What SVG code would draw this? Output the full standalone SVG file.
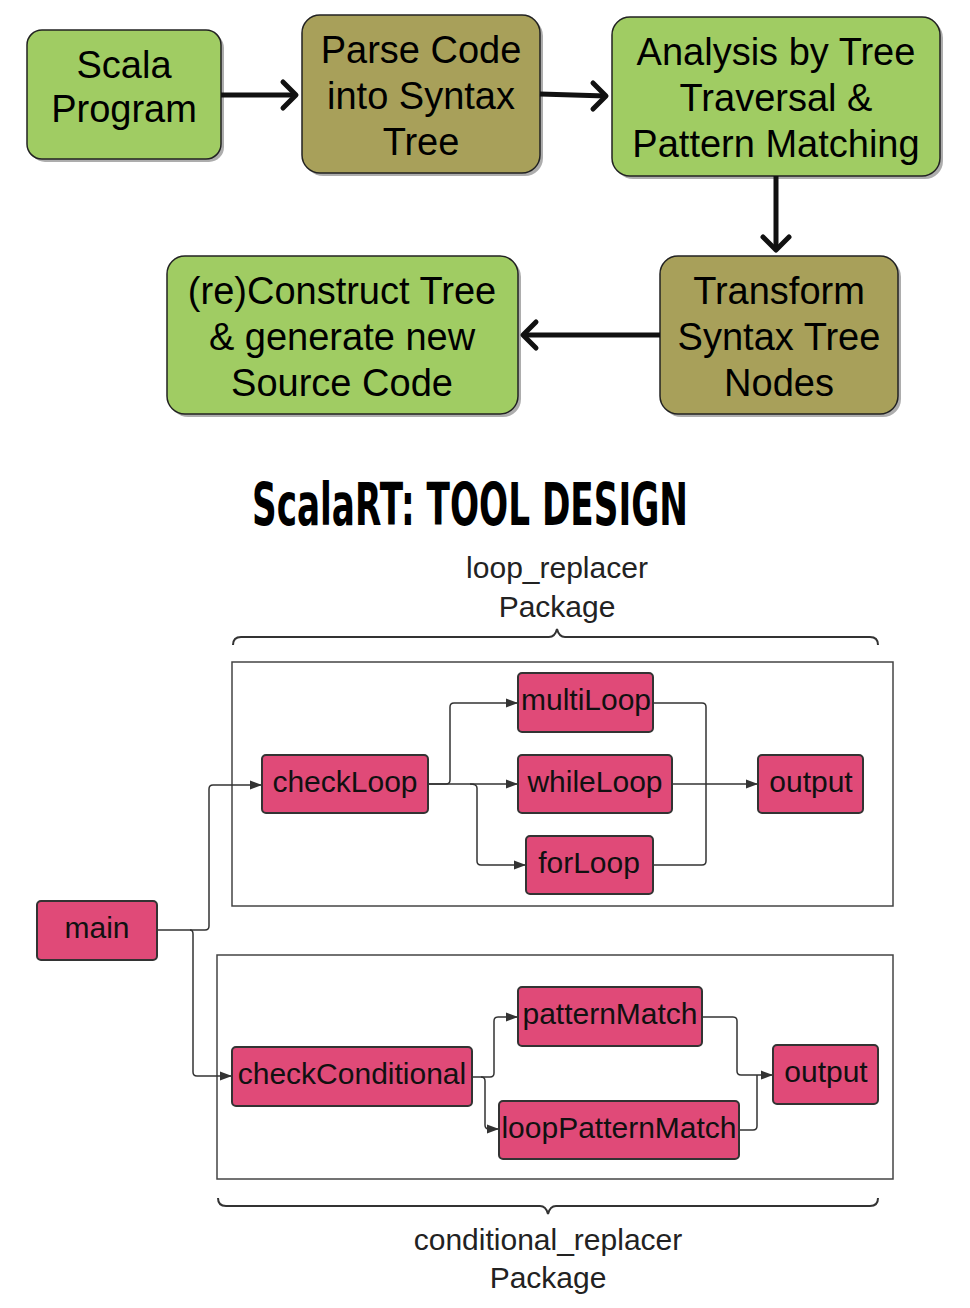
<svg xmlns="http://www.w3.org/2000/svg" width="970" height="1308" viewBox="0 0 970 1308">
<style>
.g{fill:#a0cc63;stroke:#222;stroke-width:1.5}
.o{fill:#a8a05a;stroke:#222;stroke-width:1.5}
.sh{fill:#777;opacity:0.6}
.t1{font-family:"Liberation Sans",Arial,sans-serif;font-size:38px;fill:#000;text-anchor:middle}
.p{fill:#e04a78;stroke:#333;stroke-width:2}
.t2{font-family:"Liberation Sans",Arial,sans-serif;font-size:30px;fill:#111;text-anchor:middle}
.t3{font-family:"Liberation Sans",Arial,sans-serif;font-size:30px;fill:#222;text-anchor:middle}
.big{stroke:#111;stroke-width:5;fill:none}
.thin{stroke:#333;stroke-width:1.5;fill:none}
.box{fill:none;stroke:#444;stroke-width:1.5}
.brace{fill:none;stroke:#333;stroke-width:2}
</style>
<defs>
<marker id="tri" markerWidth="12" markerHeight="10" refX="11" refY="5" orient="auto" markerUnits="userSpaceOnUse">
<path d="M0,0.5 L12,5 L0,9.5 z" fill="#333"/>
</marker>
</defs>

<g id="node-scala">
<rect class="sh" x="30" y="33" width="194" height="129" rx="15"/>
<rect class="g" x="27" y="30" width="194" height="129" rx="15"/>
<text class="t1" x="124" y="78">Scala</text>
<text class="t1" x="124" y="122">Program</text>
</g>
<g id="node-parse">
<rect class="sh" x="305" y="18" width="238" height="158" rx="18"/>
<rect class="o" x="302" y="15" width="238" height="158" rx="18"/>
<text class="t1" x="421" y="63">Parse Code</text>
<text class="t1" x="421" y="109">into Syntax</text>
<text class="t1" x="421" y="155">Tree</text>
</g>
<g id="node-analysis">
<rect class="sh" x="615" y="20" width="328" height="159" rx="18"/>
<rect class="g" x="612" y="17" width="328" height="159" rx="18"/>
<text class="t1" x="776" y="65">Analysis by Tree</text>
<text class="t1" x="776" y="111">Traversal &amp;</text>
<text class="t1" x="776" y="157">Pattern Matching</text>
</g>
<g id="node-transform">
<rect class="sh" x="663" y="259" width="238" height="158" rx="18"/>
<rect class="o" x="660" y="256" width="238" height="158" rx="18"/>
<text class="t1" x="779" y="304">Transform</text>
<text class="t1" x="779" y="350">Syntax Tree</text>
<text class="t1" x="779" y="396">Nodes</text>
</g>
<g id="node-construct">
<rect class="sh" x="170" y="259" width="351" height="158" rx="18"/>
<rect class="g" x="167" y="256" width="351" height="158" rx="18"/>
<text class="t1" x="342" y="304">(re)Construct Tree</text>
<text class="t1" x="342" y="350">&amp; generate new</text>
<text class="t1" x="342" y="396">Source Code</text>
</g>

<g id="top-connectors">
<path class="big" d="M221,95 H296"/>
<path class="big" d="M283,82 L296,95 L283,108" stroke-linecap="round" stroke-linejoin="round"/>
<path class="big" d="M540,94 L606,96"/>
<path class="big" d="M593,83 L606,96 L593,109" stroke-linecap="round" stroke-linejoin="round"/>
<path class="big" d="M776,176 V250"/>
<path class="big" d="M763,237 L776,250 L789,237" stroke-linecap="round" stroke-linejoin="round"/>
<path class="big" d="M660,335 H523"/>
<path class="big" d="M536,322 L523,335 L536,348" stroke-linecap="round" stroke-linejoin="round"/>
</g>

<text x="470" y="525" font-family="'DejaVu Sans Condensed','DejaVu Sans',sans-serif" font-weight="900" font-size="58" text-anchor="middle" textLength="436" lengthAdjust="spacingAndGlyphs" fill="#000">ScalaRT: TOOL DESIGN</text>

<g id="label-loop">
<text class="t3" x="557" y="578">loop_replacer</text>
<text class="t3" x="557" y="617">Package</text>
<path class="brace" d="M233,645 Q233,637 241,637 H549 Q555,637 557,629 Q559,637 565,637 H870 Q878,637 878,645"/>
</g>
<rect id="pkg-loop" class="box" x="232" y="662" width="661" height="244"/>
<rect id="pkg-cond" class="box" x="217" y="955" width="676" height="224"/>
<g id="label-cond">
<path class="brace" d="M218,1198 Q218,1206 226,1206 H540 Q546,1206 548,1214 Q550,1206 556,1206 H870 Q878,1206 878,1198"/>
<text class="t3" x="548" y="1250">conditional_replacer</text>
<text class="t3" x="548" y="1288">Package</text>
</g>

<g id="connectors">
<path class="thin" marker-end="url(#tri)" d="M157,930 H205 Q209,930 209,926 V789 Q209,785 213,785 H261"/>
<path class="thin" marker-end="url(#tri)" d="M190,930 Q193,930 193,934 V1072 Q193,1076 197,1076 H231"/>
<path class="thin" marker-end="url(#tri)" d="M428,784 H446 Q450,784 450,780 V707 Q450,703 454,703 H517"/>
<path class="thin" marker-end="url(#tri)" d="M428,784 H517"/>
<path class="thin" marker-end="url(#tri)" d="M470,784 Q477,784 477,788 V861 Q477,865 481,865 H525"/>
<path class="thin" d="M653,703 H702 Q706,703 706,707 V861 Q706,865 702,865 H653"/>
<path class="thin" marker-end="url(#tri)" d="M672,784 H757"/>
<path class="thin" marker-end="url(#tri)" d="M472,1077 H490 Q494,1077 494,1073 V1021 Q494,1017 498,1017 H517"/>
<path class="thin" marker-end="url(#tri)" d="M481,1077 Q485,1077 485,1081 V1125 Q485,1129 489,1129 H498"/>
<path class="thin" marker-end="url(#tri)" d="M702,1017 H733 Q737,1017 737,1021 V1071 Q737,1075 741,1075 H772"/>
<path class="thin" d="M739,1130 H753 Q757,1130 757,1126 V1075"/>
</g>

<g id="node-checkLoop"><rect class="p" x="262" y="755" width="166" height="58" rx="4"/><text class="t2" x="345" y="792">checkLoop</text></g>
<g id="node-multiLoop"><rect class="p" x="518" y="673" width="135" height="59" rx="4"/><text class="t2" x="586" y="710">multiLoop</text></g>
<g id="node-whileLoop"><rect class="p" x="518" y="755" width="154" height="58" rx="4"/><text class="t2" x="595" y="792">whileLoop</text></g>
<g id="node-forLoop"><rect class="p" x="526" y="836" width="127" height="58" rx="4"/><text class="t2" x="589" y="873">forLoop</text></g>
<g id="node-output1"><rect class="p" x="758" y="755" width="105" height="58" rx="4"/><text class="t2" x="811" y="792">output</text></g>
<g id="node-main"><rect class="p" x="37" y="901" width="120" height="59" rx="4"/><text class="t2" x="97" y="938">main</text></g>
<g id="node-checkConditional"><rect class="p" x="232" y="1047" width="240" height="59" rx="4"/><text class="t2" x="352" y="1084">checkConditional</text></g>
<g id="node-patternMatch"><rect class="p" x="518" y="987" width="184" height="59" rx="4"/><text class="t2" x="610" y="1024">patternMatch</text></g>
<g id="node-loopPatternMatch"><rect class="p" x="499" y="1101" width="240" height="58" rx="4"/><text class="t2" x="619" y="1138">loopPatternMatch</text></g>
<g id="node-output2"><rect class="p" x="773" y="1045" width="105" height="59" rx="4"/><text class="t2" x="826" y="1082">output</text></g>
</svg>
